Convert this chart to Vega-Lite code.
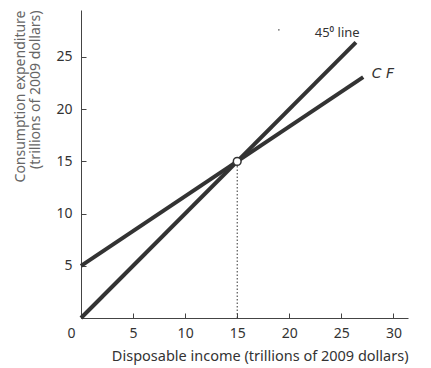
{
  "$schema": "https://vega.github.io/schema/vega-lite/v6.json",
  "width": 327,
  "height": 308,
  "autosize": "none",
  "padding": {"left": 81, "top": 10, "right": 23, "bottom": 50},
  "background": "white",
  "config": {
    "view": {"stroke": null},
    "font": "Noto Sans"
  },
  "datasets": {
    "lines": [
      {"series": "45", "x": 0, "y": 0},
      {"series": "45", "x": 26.4, "y": 26.4},
      {"series": "CF", "x": 0, "y": 5},
      {"series": "CF", "x": 27.1, "y": 23.07}
    ]
  },
  "layer": [
    {
      "data": {"values": [{"x": 15, "y0": 0, "y": 15}]},
      "mark": {"type": "rule", "strokeDash": [1.5, 2], "strokeWidth": 1, "color": "#333"},
      "encoding": {
        "x": {"field": "x", "type": "quantitative"},
        "y": {"field": "y0", "type": "quantitative"},
        "y2": {"field": "y"}
      }
    },
    {
      "data": {"name": "lines"},
      "mark": {"type": "line", "strokeWidth": 4, "color": "#333", "strokeCap": "butt"},
      "encoding": {
        "x": {
          "field": "x", "type": "quantitative",
          "scale": {"domain": [0, 31.4], "nice": false},
          "axis": {
            "values": [0, 5, 10, 15, 20, 25, 30],
            "title": "Disposable income (trillions of 2009 dollars)",
            "titleAnchor": "end",
            "titleFontSize": 14.5,
            "titleFontWeight": "normal",
            "titleColor": "#333",
            "titlePadding": 9,
            "labelFontSize": 14,
            "labelColor": "#333",
            "labelPadding": 13,
            "labelFlush": false,
            "labelOffset": {"expr": "datum.value === 0 ? -10 : 0"},
            "tickSize": -5,
            "tickColor": "#444",
            "domainColor": "#444",
            "grid": false
          }
        },
        "y": {
          "field": "y", "type": "quantitative",
          "scale": {"domain": [0, 29.5], "nice": false},
          "axis": {
            "values": [5, 10, 15, 20, 25],
            "title": ["Consumption expenditure", "(trillions of 2009 dollars)"],
            "titleAnchor": "end",
            "titleFontSize": 14,
            "titleFontWeight": "normal",
            "titleColor": "#666",
            "titlePadding": 13,
            "titleLineHeight": 15,
            "labelFontSize": 14,
            "labelColor": "#333",
            "labelPadding": 14,
            "tickSize": -5,
            "tickColor": "#444",
            "domainColor": "#444",
            "grid": false
          }
        },
        "detail": {"field": "series"}
      }
    },
    {
      "data": {"values": [{"x": 15, "y": 15}]},
      "mark": {"type": "point", "shape": "circle", "size": 60, "filled": true, "fill": "white", "stroke": "#333", "strokeWidth": 1.5, "opacity": 1},
      "encoding": {
        "x": {"field": "x", "type": "quantitative"},
        "y": {"field": "y", "type": "quantitative"}
      }
    },
    {
      "data": {"values": [{"x": 19.0, "y": 27.6}]},
      "mark": {"type": "point", "shape": "circle", "size": 3, "filled": true, "color": "#333"},
      "encoding": {
        "x": {"field": "x", "type": "quantitative"},
        "y": {"field": "y", "type": "quantitative"}
      }
    },
    {
      "data": {"values": [{"x": 24.6, "y": 27.3, "text": "45⁰ line"}]},
      "mark": {"type": "text", "fontSize": 13, "color": "#333", "align": "center", "baseline": "middle"},
      "encoding": {
        "x": {"field": "x", "type": "quantitative"},
        "y": {"field": "y", "type": "quantitative"},
        "text": {"field": "text"}
      }
    },
    {
      "data": {"values": [{"x": 29.0, "y": 23.4, "text": "C F"}]},
      "mark": {"type": "text", "fontSize": 14, "font": "DejaVu Sans", "fontStyle": "oblique", "color": "#333", "align": "center", "baseline": "middle"},
      "encoding": {
        "x": {"field": "x", "type": "quantitative"},
        "y": {"field": "y", "type": "quantitative"},
        "text": {"field": "text"}
      }
    }
  ]
}
